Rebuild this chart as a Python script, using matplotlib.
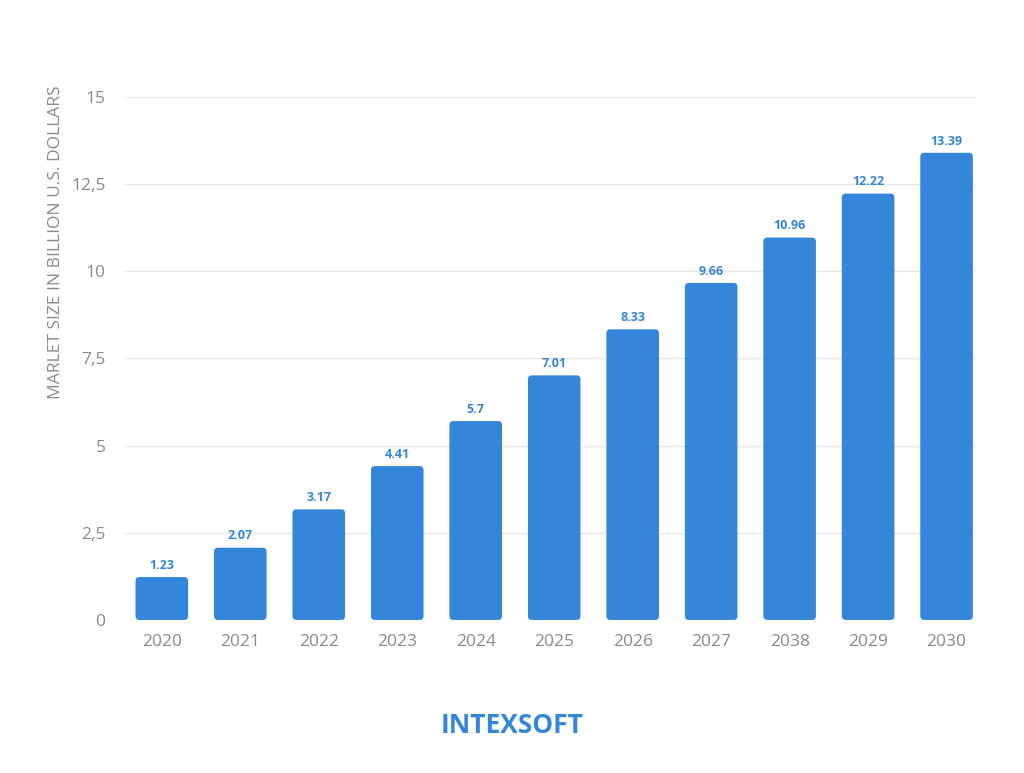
import matplotlib
matplotlib.use('Agg')
import matplotlib.pyplot as plt
from matplotlib.patches import FancyBboxPatch

plt.rcParams['font.family'] = ['Open Sans', 'DejaVu Sans']

years = ['2020', '2021', '2022', '2023', '2024', '2025', '2026', '2027', '2038', '2029', '2030']
values = [1.23, 2.07, 3.17, 4.41, 5.7, 7.01, 8.33, 9.66, 10.96, 12.22, 13.39]
yticks = [0, 2.5, 5, 7.5, 10, 12.5, 15]
ytick_labels = ['0', '2,5', '5', '7,5', '10', '12,5', '15']

BLUE = '#3486da'
GREY = '#8a8a8a'

fig = plt.figure(figsize=(10.24, 7.73), dpi=100)
ax = fig.add_axes([0.122, 0.198, 0.830, 0.677])

x = list(range(len(years)))
bars = ax.bar(x, values, width=0.67, color=BLUE, zorder=3)

# rounded corners: swap each bar for a rounded box of same geometry
for b in bars:
    bx, by, bw, bh = b.get_x(), b.get_y(), b.get_width(), b.get_height()
    b.set_visible(False)
    ax.add_patch(FancyBboxPatch((bx, by), bw, bh,
                                boxstyle='round,pad=0,rounding_size=0.05',
                                mutation_aspect=2.3, fc=BLUE, ec='none', zorder=3))

for xi, v in zip(x, values):
    ax.text(xi, v + 0.15, f'{v:g}', ha='center', va='bottom',
            fontsize=9, fontweight='bold', color=BLUE)

ax.set_xlim(-0.47, 10.36)
ax.set_ylim(0, 15)
ax.set_yticks(yticks)
ax.set_yticklabels(ytick_labels)
ax.set_xticks(x)
ax.set_xticklabels(years)
ax.tick_params(length=0, labelsize=12.5, colors=GREY)
ax.tick_params(axis='y', pad=14)
ax.tick_params(axis='x', pad=10)
ax.yaxis.grid(True, color='#e6e6e6', linewidth=1, zorder=0)
ax.set_axisbelow(True)
for s in ax.spines.values():
    s.set_visible(False)

fig.text(0.055, 0.89, 'MARLET SIZE IN BILLION U.S. DOLLARS', rotation=90,
         ha='center', va='top', fontsize=12.5, color=GREY)

fig.text(0.5, 0.062, 'INTEXSOFT', ha='center', va='center',
         fontsize=19, fontweight='bold', color=BLUE)

fig.savefig('out.png', dpi=100)
